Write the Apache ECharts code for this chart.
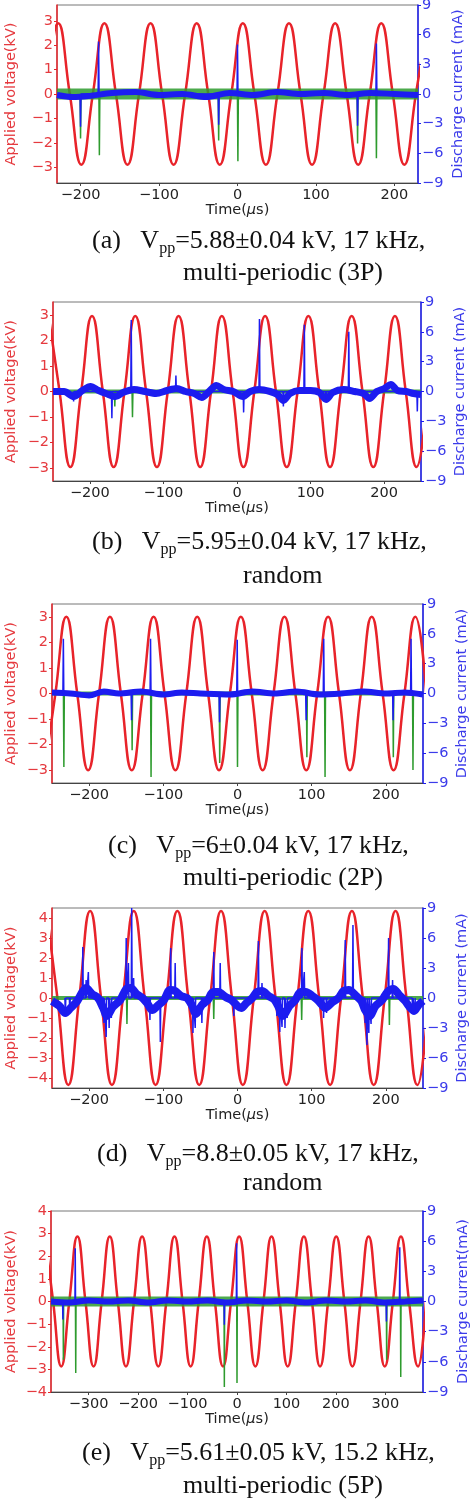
<!DOCTYPE html>
<html>
<head>
<meta charset="utf-8">
<script src="https://cdn.jsdelivr.net/npm/echarts@6.0.0/dist/echarts.min.js"></script>
<style>
  html, body { margin: 0; padding: 0; background: #fff; }
  #chart { width: 474px; height: 1501px; }
</style>
</head>
<body>
<div id="chart"></div>
<script>
// ---- tick labels ----
const ticksT250 = [-200, -100, 0, 100, 200];
const ticksT375 = [-300, -200, -100, 0, 100, 200, 300];
const ticksV3 = [-3, -2, -1, 0, 1, 2, 3];
const ticksV4 = [-4, -3, -2, -1, 0, 1, 2, 3, 4];
const ticksI = [-9, -6, -3, 0, 3, 6, 9];

// ---- captions ----
const capLabel = ['(a)', '(b)', '(c)', '(d)', '(e)'];
const capValue = ['=5.88±0.04 kV, 17 kHz,', '=5.95±0.04 kV, 17 kHz,', '=6±0.04 kV, 17 kHz,',
                  '=8.8±0.05 kV, 17 kHz,', '=5.61±0.05 kV, 15.2 kHz,'];
const capMode = ['multi-periodic (3P)', 'random', 'multi-periodic (2P)', 'random', 'multi-periodic (5P)'];

// ---- (a) applied voltage [time us, kV] : extrema and zero crossings ----
const voltA = [[-257.8,-2.9],[-243.1,0],[-228.4,2.9],[-213.7,0],[-199,-2.9],[-184.3,0],[-169.6,2.9],[-154.9,0],
  [-140.2,-2.9],[-125.5,0],[-110.8,2.9],[-96.1,0],[-81.4,-2.9],[-66.7,0],[-52,2.9],[-37.3,0],[-22.6,-2.9],[-7.9,0],
  [6.8,2.9],[21.5,0],[36.2,-2.9],[50.9,0],[65.6,2.9],[80.3,0],[95,-2.9],[109.7,0],[124.4,2.9],[139.1,0],
  [153.8,-2.9],[168.5,0],[183.2,2.9],[197.9,0],[212.6,-2.9],[227.3,0],[242,2.9]];
// discharge current slow part [us, mA]
const baseA = [[-230,-0.1],[-210,-0.3],[-190,-0.2],[-160,0.1],[-130,0.2],[-100,-0.1],[-70,0],[-40,-0.3],[-10,0.1],
  [20,-0.1],[50,0.2],[80,0],[110,0.1],[140,-0.1],[170,0.1],[200,0],[230,-0.1]];
const curA = [[-200,-3.3],[-177,5.3],[-24,-3.1],[0,5.0],[153,-3.2],[177,5.1]];
const pmtA = [[-200,-4.5],[-176,-6.2],[-24,-4.7],[0.5,-6.8],[153,-5.0],[177,-6.5]];

// ---- (b) ----
const voltB = [[-255.8,2.95],[-241.1,0],[-226.4,-2.95],[-211.7,0],[-197,2.95],[-182.3,0],[-167.6,-2.95],[-152.9,0],
  [-138.2,2.95],[-123.5,0],[-108.8,-2.95],[-94.1,0],[-79.4,2.95],[-64.7,0],[-50,-2.95],[-35.3,0],[-20.6,2.95],[-5.9,0],
  [8.8,-2.95],[23.5,0],[38.2,2.95],[52.9,0],[67.6,-2.95],[82.3,0],[97,2.95],[111.7,0],[126.4,-2.95],[141.1,0],
  [155.8,2.95],[170.5,0],[185.2,-2.95],[199.9,0],[214.6,2.95],[229.3,0],[244,-2.95],[258.7,0]];
const baseB = [[-250,0],[-235,0],[-222,-0.5],[-210,0.1],[-199,0.5],[-188,0.1],[-178,-0.2],[-165,-0.5],[-155,-0.1],
  [-140,0.2],[-125,0],[-110,-0.2],[-95,0.1],[-82,0.3],[-70,0],[-58,-0.2],[-48,-0.6],[-38,0],[-28,0.6],[-18,0.2],
  [-5,0],[8,-0.5],[18,0],[30,0.2],[45,0],[55,-0.3],[63,-0.9],[72,-0.2],[85,0.1],[100,0.1],[112,-0.1],[121,-0.8],
  [130,-0.1],[145,0.2],[160,0],[172,-0.2],[180,-0.7],[190,0],[200,0.3],[209,0.7],[218,0.1],[230,0],[240,-0.2],[250,-0.3]];
const curB = [[-222,-1.0],[-170,-2.7],[-143.7,7.2],[-83,1.6],[9,-2.1],[30.5,7.3],[63,-1.5],[91.5,6.7],[121,-1.0],
  [151.9,6.0],[245,-2.0]];
const pmtB = [[-166,-1.5],[-142,-2.6]];

// ---- (c) ----
const voltC = [[-260.1,-3],[-245.4,0],[-230.7,3],[-216,0],[-201.3,-3],[-186.6,0],[-171.9,3],[-157.2,0],[-142.5,-3],
  [-127.8,0],[-113.1,3],[-98.4,0],[-83.7,-3],[-69,0],[-54.3,3],[-39.6,0],[-24.9,-3],[-10.2,0],[4.5,3],[19.2,0],
  [33.9,-3],[48.6,0],[63.3,3],[78,0],[92.7,-3],[107.4,0],[122.1,3],[136.8,0],[151.5,-3],[166.2,0],[180.9,3],
  [195.6,0],[210.3,-3],[225,0],[239.7,3],[254.4,0]];
const baseC = [[-250,0.1],[-225,0],[-200,-0.2],[-180,0.2],[-160,0],[-130,0.2],[-100,-0.1],[-75,0.1],[-50,0],
  [-10,-0.1],[20,0.2],[50,0],[80,0.2],[110,-0.1],[140,0],[170,0.2],[200,0],[225,0.1],[250,-0.1]];
const curC = [[-234.7,5.5],[-142.8,-2.7],[-117.2,5.5],[-24.2,-2.9],[-0.4,5.4],[92.5,-2.7],[116.2,5.5],
  [209.7,-2.7],[233.9,5.5]];
const pmtC = [[-234,-7.4],[-142,-5.7],[-116.5,-8.4],[-24,-7.0],[0,-7.4],[93.5,-6.4],[118,-8.4],[210,-6.4],[236.5,-7.7]];

// ---- (d) ----
const voltD = [[-257.4,4.35],[-242.7,0],[-228,-4.35],[-213.3,0],[-198.6,4.35],[-183.9,0],[-169.2,-4.35],[-154.5,0],
  [-139.8,4.35],[-125.1,0],[-110.4,-4.35],[-95.7,0],[-81,4.35],[-66.3,0],[-51.6,-4.35],[-36.9,0],[-22.2,4.35],[-7.5,0],
  [7.2,-4.35],[21.9,0],[36.6,4.35],[51.3,0],[66,-4.35],[80.7,0],[95.4,4.35],[110.1,0],[124.8,-4.35],[139.5,0],
  [154.2,4.35],[168.9,0],[183.6,-4.35],[198.3,0],[213,4.35],[227.7,0],[242.4,-4.35],[257.1,0]];
const baseD = [[-250,-0.3],[-240,-0.8],[-232,-1.5],[-225,-1.0],[-216,-0.3],[-209,0.6],[-204,1.0],[-196,0.4],[-188,0],
  [-181,-1.0],[-176,-1.8],[-168,-0.9],[-158,-0.2],[-150,0.9],[-144,1.0],[-136,0.4],[-128,0],[-121,-0.6],[-115,-1.2],
  [-108,-0.8],[-99,-0.2],[-91,0.8],[-84,0.7],[-76,0.2],[-68,0],[-61,-0.8],[-56,-1.6],[-48,-0.7],[-40,-0.2],[-33,0.6],
  [-26,0.6],[-16,0.1],[-8,-0.2],[0,-0.8],[5,-1.0],[12,-0.5],[20,0],[26,0.6],[33,0.7],[42,0.2],[50,-0.2],[56,-1.0],
  [61,-1.8],[70,-0.8],[78,-0.2],[85,0.6],[92,0.6],[101,0.2],[108,-0.2],[114,-0.7],[118,-1.0],[128,-0.4],[136,0],
  [143,0.7],[150,0.8],[160,0.2],[167,-0.3],[172,-1.2],[178,-1.8],[186,-0.8],[195,-0.2],[202,0.6],[210,0.9],[218,0.3],
  [226,-0.3],[232,-0.9],[238,-1.3],[244,-0.7],[250,-0.3]];
const curD = [[-232,-1.8],[-226,-1.5],[-208.5,5.1],[-204,1.8],[-201,2.6],[-180,-2.5],[-177,-3.9],[-173,-3.0],
  [-170,-2.0],[-150,6.0],[-147,3.5],[-142.6,9.0],[-140,2.0],[-118,-2.2],[-104,-4.4],[-90,5.0],[-84,3.5],[-60,-3.5],
  [-57,-3.0],[-48,-2.5],[-32,4.6],[-23.3,3.5],[-5,-1.8],[28.2,5.7],[33,1.5],[53,-1.8],[57,-3.4],[60,-2.9],[64,-3.0],
  [67,-2.0],[86.8,5.0],[90,2.6],[116,-2.0],[120,-1.5],[145.2,5.8],[155.6,7.3],[172,-2.5],[174.5,-4.7],[177,-3.5],
  [180,-2.6],[203.6,6.0],[209,1.8],[236,-1.5],[239,-1.5]];
const pmtD = [[-149,-2.6],[-32,-2.1],[86.5,-2.2],[204.7,-2.7]];

// ---- (e) ----
const voltE = [[-388,2.87],[-371.7,0],[-355.3,-2.87],[-339,0],[-322.6,2.87],[-306.3,0],[-289.9,-2.87],[-273.6,0],
  [-257.2,2.87],[-240.9,0],[-224.5,-2.87],[-208.2,0],[-191.8,2.87],[-175.5,0],[-159.1,-2.87],[-142.8,0],
  [-126.4,2.87],[-110.1,0],[-93.7,-2.87],[-77.4,0],[-61,2.87],[-44.7,0],[-28.3,-2.87],[-12,0],[4.4,2.87],[20.8,0],
  [37.1,-2.87],[53.5,0],[69.8,2.87],[86.2,0],[102.5,-2.87],[118.9,0],[135.2,2.87],[151.6,0],[167.9,-2.87],[184.3,0],
  [200.6,2.87],[217,0],[233.3,-2.87],[249.7,0],[266,2.87],[282.4,0],[298.7,-2.87],[315.1,0],[331.4,2.87],
  [347.8,0],[366,-2.87],[382,0]];
const baseE = [[-376,0],[-340,-0.1],[-300,0.1],[-260,0],[-220,0.1],[-180,-0.1],[-140,0.1],[-100,0],[-60,0.1],
  [-20,-0.1],[20,0.1],[60,0],[100,0.1],[140,-0.1],[180,0.1],[220,0],[260,0.1],[300,-0.1],[340,0],[376,0.1]];
const curE = [[-352,-1.8],[-327,5.3],[-25.6,-2.3],[-0.7,5.8],[302,-2.0],[329,5.4]];
const pmtE = [[-351,-5.8],[-326,-7.1],[-25.6,-8.5],[0,-8.1],[302.5,-5.8],[331,-7.5]];

// ---- styling ----
const RED = '#e8232a', RED_TXT = '#e53a3f';
const BLUE = '#1c1cf0', BLUE_TXT = '#3b3bea';
const GREEN = '#2e9b2e';
const SANS = 'DejaVu Sans', SERIF = 'Liberation Serif';
const FS = 14.5;

const panels = [
  { grid: { left: 57, top: 5, width: 361, height: 178 }, tMin: -230, tMax: 230, tTicks: ticksT250,
    vMin: -3.65, vMax: 3.65, vTicks: ticksV3, volt: voltA, base: baseA, cur: curA, pmt: pmtA,
    greenW: 11, blueW: 6, iName: 'Discharge current (mA)', vGap: 38, iGap: 33 },
  { grid: { left: 53, top: 302, width: 368, height: 179 }, tMin: -250, tMax: 250, tTicks: ticksT250,
    vMin: -3.5, vMax: 3.5, vTicks: ticksV3, volt: voltB, base: baseB, cur: curB, pmt: pmtB,
    greenW: 4, blueW: 7, iName: 'Discharge current (mA)', vGap: 34, iGap: 32 },
  { grid: { left: 52, top: 604, width: 371, height: 179 }, tMin: -250, tMax: 250, tTicks: ticksT250,
    vMin: -3.5, vMax: 3.5, vTicks: ticksV3, volt: voltC, base: baseC, cur: curC, pmt: pmtC,
    greenW: 4, blueW: 6, iName: 'Discharge current (mA)', vGap: 33, iGap: 32 },
  { grid: { left: 52, top: 908, width: 371, height: 180 }, tMin: -250, tMax: 250, tTicks: ticksT250,
    vMin: -4.5, vMax: 4.5, vTicks: ticksV4, volt: voltD, base: baseD, cur: curD, pmt: pmtD,
    greenW: 4, blueW: 8, iName: 'Discharge current (mA)', vGap: 33, iGap: 32 },
  { grid: { left: 51, top: 1211, width: 372, height: 181 }, tMin: -376, tMax: 376, tTicks: ticksT375,
    vMin: -4, vMax: 4, vTicks: ticksV4, volt: voltE, base: baseE, cur: curE, pmt: pmtE,
    greenW: 10, blueW: 6, iName: 'Discharge current(mA)', vGap: 32, iGap: 33 }
];

const capPos = [
  { l1: [92, 225], l2: [183, 257] },
  { l1: [92, 526], l2: [243, 560] },
  { l1: [108, 830], l2: [183, 862] },
  { l1: [97, 1138], l2: [243, 1167] },
  { l1: [82, 1437], l2: [183, 1470] }
];

const minus = v => String(v).replace('-', '\u2212');

// spike tips -> narrow line excursions from zero
function spikeLine(tips, w) {
  const out = [];
  tips.slice().sort((a, b) => a[0] - b[0]).forEach(([t, v]) => {
    out.push([t - w, 0], [t, v], [t + w, 0]);
  });
  return out;
}

const grids = [], xAxes = [], yAxes = [], series = [], titles = [];

panels.forEach((p, k) => {
  grids.push(Object.assign({ show: true, borderColor: '#777', borderWidth: 1, containLabel: false,
    outerBoundsMode: 'none' }, p.grid));

  xAxes.push({
    gridIndex: k, type: 'value', min: p.tMin, max: p.tMax,
    axisLine: { onZero: false, lineStyle: { color: '#444', width: 1 } },
    axisTick: { show: true, length: 3, customValues: p.tTicks, lineStyle: { color: '#444' } },
    axisLabel: { customValues: p.tTicks, margin: 5, color: '#222', fontSize: FS, fontFamily: SANS, formatter: minus },
    splitLine: { show: false },
    name: 'Time({i|μ}s)', nameLocation: 'middle', nameGap: 20, nameMoveOverlap: false,
    nameTextStyle: { color: '#222', fontSize: FS, fontFamily: SANS,
      rich: { i: { fontStyle: 'italic', fontSize: FS, fontFamily: SANS, color: '#222' } } }
  });

  yAxes.push({
    gridIndex: k, type: 'value', position: 'left', min: p.vMin, max: p.vMax,
    axisLine: { show: true, onZero: false, lineStyle: { color: RED, width: 1.5 } },
    axisTick: { show: true, length: 3, customValues: p.vTicks, lineStyle: { color: RED } },
    axisLabel: { customValues: p.vTicks, margin: 4, color: RED_TXT, fontSize: FS, fontFamily: SANS, formatter: minus },
    splitLine: { show: false },
    name: 'Applied voltage(kV)', nameLocation: 'middle', nameGap: p.vGap, nameMoveOverlap: false,
    nameTextStyle: { color: RED_TXT, fontSize: FS, fontFamily: SANS }
  });
  yAxes.push({
    gridIndex: k, type: 'value', position: 'right', min: -9, max: 9,
    axisLine: { show: true, onZero: false, lineStyle: { color: BLUE, width: 1.5 } },
    axisTick: { show: true, length: 3, customValues: ticksI, lineStyle: { color: BLUE } },
    axisLabel: { customValues: ticksI, margin: 4, color: BLUE_TXT, fontSize: FS, fontFamily: SANS, formatter: minus },
    splitLine: { show: false },
    name: p.iName, nameLocation: 'middle', nameGap: p.iGap, nameMoveOverlap: false,
    nameTextStyle: { color: BLUE_TXT, fontSize: FS, fontFamily: SANS }
  });

  const common = { type: 'line', xAxisIndex: k, showSymbol: false, symbol: 'none', animation: false, silent: true };
  series.push(Object.assign({}, common, {
    name: 'voltage' + k, yAxisIndex: 2 * k, data: p.volt, smooth: 0.5,
    lineStyle: { color: RED, width: 2.5 }
  }));
  series.push(Object.assign({}, common, {
    name: 'pmtBand' + k, yAxisIndex: 2 * k + 1, data: [[p.tMin, 0], [p.tMax, 0]],
    lineStyle: { color: GREEN, width: p.greenW, opacity: 0.85 }
  }));
  series.push(Object.assign({}, common, {
    name: 'pmt' + k, yAxisIndex: 2 * k + 1, data: spikeLine(p.pmt, 0.6),
    lineStyle: { color: GREEN, width: 1.5 }
  }));
  series.push(Object.assign({}, common, {
    name: 'currentBand' + k, yAxisIndex: 2 * k + 1, data: p.base, smooth: 0.3,
    lineStyle: { color: BLUE, width: p.blueW }
  }));
  series.push(Object.assign({}, common, {
    name: 'current' + k, yAxisIndex: 2 * k + 1, data: spikeLine(p.cur, 0.6),
    lineStyle: { color: BLUE, width: 1.5 }
  }));

  const capStyle = {
    color: '#111', fontWeight: 'normal',
    rich: {
      m: { fontFamily: SERIF, fontSize: 26, lineHeight: 32, verticalAlign: 'middle', color: '#111' },
      s: { fontFamily: SERIF, fontSize: 16, lineHeight: 16, verticalAlign: 'bottom', color: '#111' }
    }
  };
  titles.push({
    text: '{m|' + capLabel[k] + '   V}{s|pp}{m|' + capValue[k] + '}',
    left: capPos[k].l1[0], top: capPos[k].l1[1], padding: 0, textStyle: capStyle
  });
  titles.push({
    text: '{m|' + capMode[k] + '}',
    left: capPos[k].l2[0], top: capPos[k].l2[1], padding: 0, textStyle: capStyle
  });
});

const chart = echarts.init(document.getElementById('chart'), null, { renderer: 'canvas' });
chart.setOption({
  backgroundColor: '#fff',
  animation: false,
  title: titles,
  grid: grids,
  xAxis: xAxes,
  yAxis: yAxes,
  series: series
});
window.addEventListener('resize', chart.resize);
</script>
</body>
</html>
